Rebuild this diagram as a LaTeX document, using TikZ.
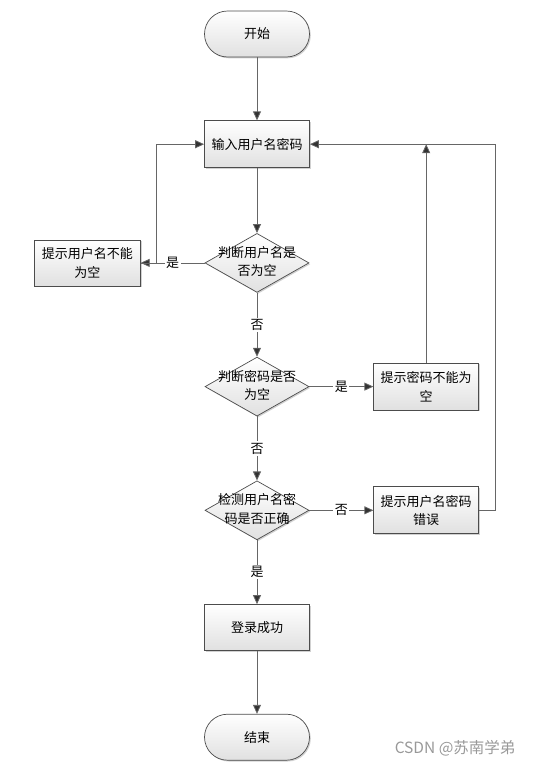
\documentclass[tikz,border=0pt]{standalone}
\usepackage{fontspec}
\setmainfont{Noto Sans CJK SC}
\usepackage{tikz}
\usetikzlibrary{positioning, arrows.meta, shapes.geometric, shadows}
\newcommand{\twolines}[2]{\makebox[0pt]{\begin{tabular}{@{}c@{}}#1\\#2\end{tabular}}}

\begin{document}
\begin{tikzpicture}[x=1pt,y=1pt,
  font=\fontsize{13}{18.5}\selectfont,
  boxnode/.style={draw=black!70, line width=0.7pt, top color=white, bottom color=black!12,
    drop shadow={shadow xshift=1.3pt, shadow yshift=-1.3pt, fill=black!30, opacity=0.6}, align=center},
  procbox/.style={boxnode, minimum width=105pt, minimum height=47pt},
  termbox/.style={boxnode, rounded corners=23pt, minimum width=105pt, minimum height=46pt},
  decbox/.style={boxnode, diamond, aspect=1.8, inner sep=0pt, minimum width=104pt, minimum height=59pt},
  flow/.style={draw=black!60, line width=0.8pt, -{Triangle[length=9pt,width=8pt,fill=black!80]}},
  tag/.style={fill=white, inner sep=1.5pt}]
\useasboundingbox (0,0) rectangle (535,-766);

\node[termbox] (start) at (257,-34) {开始};
\node[procbox, below=63pt of start] (input) {输入用户名密码};
\node[decbox, below=65pt of input] (chkname) {\twolines{判断用户名是}{否为空}};
\node[decbox, below=64pt of chkname] (chkpwd) {\twolines{判断密码是否}{为空}};
\node[decbox, below=64pt of chkpwd] (verify) {\twolines{检测用户名密}{码是否正确}};
\node[procbox, below=64pt of verify, minimum height=46pt] (ok) {登录成功};
\node[termbox, below=63pt of ok] (stop) {结束};

\node[procbox, left=64pt of chkname, minimum width=106pt, minimum height=46pt] (nameerr) {提示用户名不能\\为空};
\node[procbox, right=64pt of chkpwd] (pwderr) {提示密码不能为\\空};
\node[procbox, right=64pt of verify] (wrong) {提示用户名密码\\错误};

\draw[flow] (start) -- (input);
\draw[flow] (input) -- (chkname);
\draw[flow] (chkname) -- node[tag] {否} (chkpwd);
\draw[flow] (chkpwd) -- node[tag] {否} (verify);
\draw[flow] (verify) -- node[tag] {是} (ok);
\draw[flow] (ok) -- (stop);

\draw[flow] (chkname.west) -- node[tag] {是} (nameerr.east);
\draw[flow] (chkpwd.east) -- node[tag] {是} (pwderr.west);
\draw[flow] (verify.east) -- node[tag] {否} (wrong.west);

\draw[flow] (nameerr.east) -- ++(16,0) |- (input.west);
\draw[flow] (pwderr.north) -- (pwderr.north |- input.east);
\draw[flow] (wrong.east) -- ++(16,0) |- (input.east);

\node[text=black!40, font=\fontsize{15.5}{18}\selectfont, anchor=east] (mark) at (519,-748) {CSDN @苏南学弟};
\end{tikzpicture}
\end{document}
